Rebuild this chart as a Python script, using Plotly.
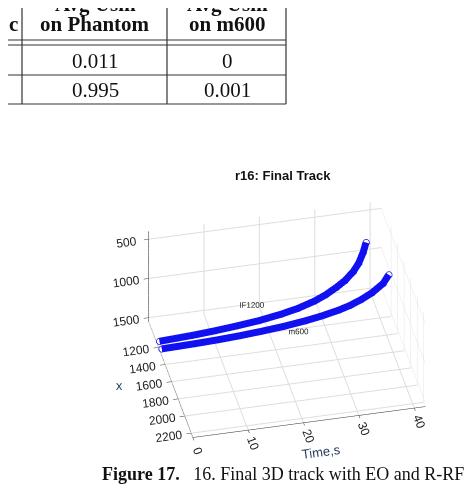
import plotly.graph_objects as go

# Track data
t_if = [0, 3, 6, 10, 14, 18, 22, 25, 28, 30, 32, 33.5, 35, 36, 36.8, 37.3]
y_if = [1440, 1430, 1420, 1400, 1375, 1345, 1300, 1255, 1190, 1130, 1050, 980, 880, 780, 650, 530]
x_if = [1230] * len(t_if)
t_m6 = [0, 3, 6, 10, 14, 18, 22, 26, 29, 32, 34, 36, 38, 40, 41]
y_m6 = [1460, 1455, 1450, 1440, 1425, 1405, 1380, 1345, 1310, 1265, 1225, 1170, 1100, 1000, 900]
x_m6 = [1300] * len(t_m6)

time_ticks = [0, 10, 20, 30, 40]
x_ticks = [1200, 1400, 1600, 1800, 2000, 2200]
y_ticks = [500, 1000, 1500]

tab_head = ["on Phantom", "on m600"]
tab_row1 = ["0.011", "0"]
tab_row2 = ["0.995", "0.001"]

OFF = 8  # page body margin
W, H = 474 - OFF, 496 - OFF
def px(x): return (x - OFF) / W
def py(y): return 1 - (y - OFF) / H

fig = go.Figure()
for t, x, y in [(t_if, x_if, y_if), (t_m6, x_m6, y_m6)]:
    fig.add_trace(go.Scatter3d(x=t, y=x, z=y, mode="lines+markers",
                               line=dict(color="#1010f0", width=14),
                               marker=dict(color="#1010f0", size=4, symbol="circle-open"),
                               showlegend=False, hoverinfo="skip"))
fig.add_trace(go.Scatter3d(x=[17, 24], y=[1180, 1420], z=[1330, 1470], mode="text",
                           text=["IF1200", "m600"], textfont=dict(size=8, color="#222", family="Arial"),
                           showlegend=False, hoverinfo="skip"))

ax = dict(showbackground=False, gridcolor="#dddddd", zeroline=False, showspikes=False,
          linecolor="#333", showline=True, ticks="outside", tickcolor="#333",
          tickfont=dict(size=12, family="Arial", color="#222"))
fig.update_layout(
    width=W, height=H, margin=dict(l=0, r=0, t=0, b=0),
    paper_bgcolor="white", showlegend=False,
    scene=dict(
        domain=dict(x=[px(100), px(474)], y=[py(468), py(170)]),
        xaxis=dict(ax, range=[0, 42], tickvals=time_ticks, title=dict(text="Time,s", font=dict(size=13, family="Arial"))),
        yaxis=dict(ax, range=[2250, 900], tickvals=x_ticks, title=dict(text="x", font=dict(size=13, family="Arial"))),
        zaxis=dict(ax, range=[1550, 400], tickvals=y_ticks, title=dict(text="y", font=dict(size=13, family="Arial"))),
        aspectmode="manual", aspectratio=dict(x=1.6, y=1.35, z=0.75),
        camera=dict(eye=dict(x=-0.36, y=-1.6, z=1.2), center=dict(x=0, y=0, z=0),
                    up=dict(x=0, y=0, z=-1), projection=dict(type="orthographic")),
    ),
)

# Table lines
line = dict(color="#333", width=1.2)
for yy in [40, 45, 75, 104]:
    fig.add_shape(type="line", xref="paper", yref="paper", x0=px(0), x1=px(286), y0=py(yy), y1=py(yy), line=line)
for xx in [22, 167, 286]:
    fig.add_shape(type="line", xref="paper", yref="paper", x0=px(xx), x1=px(xx), y0=py(0), y1=py(104), line=line)
font_b = dict(family="Liberation Serif", size=21, color="#111")
font_n = dict(family="Liberation Serif", size=21, color="#111")
cx = [95, 227]
kw = dict(showarrow=False, xref="paper", yref="paper", xanchor="center", yanchor="middle")
for i in range(2):
    fig.add_annotation(x=px(cx[i]), y=py(4), text="<b>Avg Usm</b>", font=font_b, **kw)
    fig.add_annotation(x=px(cx[i]), y=py(24), text="<b>" + tab_head[i] + "</b>", font=font_b, **kw)
    fig.add_annotation(x=px(cx[i]), y=py(61), text=tab_row1[i], font=font_n, **kw)
    fig.add_annotation(x=px(cx[i]), y=py(90), text=tab_row2[i], font=font_n, **kw)
fig.add_annotation(x=px(20), y=py(24), text="<b>c</b>", showarrow=False, xref="paper", yref="paper", font=font_b,
                   xanchor="right", yanchor="middle")

fig.add_annotation(x=px(283), y=py(166), text="<b>r16: Final Track</b>", showarrow=False, xref="paper", yref="paper",
                   xanchor="center", font=dict(family="Arial", size=13, color="#111"))
fig.add_annotation(x=px(100), y=py(486), text="<b>Figure 17.</b>   16. Final 3D track with EO and R-RF fusion", showarrow=False,
                   xref="paper", yref="paper", xanchor="left", font=dict(family="Liberation Serif", size=18, color="#111"))

fig.write_html("out.html")
